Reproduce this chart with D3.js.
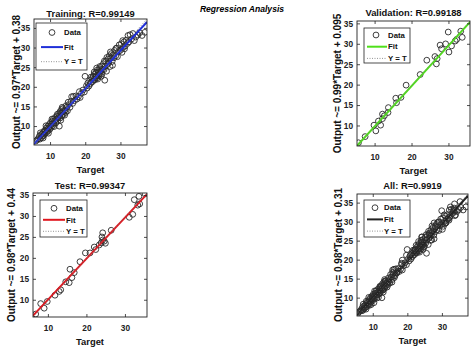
<!DOCTYPE html>
<html>
<head>
<meta charset="utf-8">
<script src="https://cdn.jsdelivr.net/npm/d3@7"></script>
<style>
  body { margin: 0; background: #fff; }
  svg { display: block; font-family: "Liberation Sans", Arial, sans-serif; font-weight: bold; }
</style>
</head>
<body>
<svg id="chart" width="474" height="351"></svg>
<script>
// --- DATA: [target, output] pairs ---
const trainingPts = [
  [5.8,6.3],[6.2,6.6],[6.5,6.9],[6.8,7.5],[7.0,6.8],[7.2,7.9],[7.4,7.2],[7.6,8.1],[7.8,7.6],[8.0,8.6],
  [8.1,7.8],[8.3,9.0],[8.4,8.2],[8.6,8.9],[8.8,9.6],[8.9,8.5],[9.0,9.2],[9.2,10.1],[9.3,8.9],[9.5,9.6],
  [9.6,10.5],[9.8,9.3],[9.9,10.1],[10.0,11.0],[10.2,9.8],[10.3,10.6],[10.5,11.3],[10.6,10.2],[10.8,11.9],[10.9,10.8],
  [11.2,11.5],[11.3,12.3],[11.5,10.9],[11.6,11.8],[11.8,12.6],[12.0,11.4],[12.1,12.2],[12.3,13.3],[12.5,10.1],[12.5,12.6],
  [12.7,13.8],[12.8,12.2],[13.0,13.4],[13.1,14.3],[13.2,12.7],[13.4,13.9],[13.5,14.6],[13.6,13.1],[13.8,13.8],[14.0,12.9],
  [14.1,14.1],[14.3,13.6],[14.6,14.9],[14.8,14.0],[15.2,15.6],[15.5,14.9],[15.8,16.4],[16.0,17.6],[16.3,15.9],[16.8,16.6],
  [17.2,17.8],[17.5,17.0],[17.9,17.6],[18.2,18.9],[18.4,17.4],[18.8,18.5],[19.2,19.3],[19.6,18.8],[19.8,22.8],[20.2,20.4],
  [20.4,19.8],[20.6,21.1],[20.9,20.3],[21.1,21.7],[21.3,20.9],[21.6,21.3],[21.8,22.2],[22.0,21.5],[22.1,22.8],[22.3,22.0],
  [22.5,23.3],[22.6,21.9],[22.8,22.6],[22.9,23.8],[23.0,23.0],[23.2,22.4],[23.3,24.4],[23.5,23.1],[23.6,23.9],[23.8,22.9],
  [23.9,24.7],[24.1,23.6],[24.3,24.2],[24.5,25.4],[24.6,23.4],[24.8,24.6],[25.0,26.0],[25.2,24.5],[25.4,21.8],[25.5,25.3],
  [25.7,26.6],[25.9,24.1],[26.1,25.8],[26.3,27.2],[26.5,26.2],[26.7,28.0],[26.9,25.3],[27.1,27.4],[27.3,28.6],[27.5,26.6],
  [27.8,28.3],[28.0,27.5],[28.2,29.4],[28.5,28.0],[28.8,30.0],[29.0,27.8],[29.3,29.1],[29.5,30.8],[29.8,29.4],[30.1,31.1],
  [30.3,28.9],[30.6,30.2],[30.9,31.6],[31.2,30.5],[31.5,32.0],[31.9,31.2],[32.3,31.6],[32.6,33.4],[33.0,32.3],[33.4,33.7],
  [33.8,31.9],[34.2,32.8],[34.8,33.3],[35.3,33.9],[36.0,33.2],[36.8,34.0],
  [7.1,8.4],[7.9,7.1],[8.7,10.2],[9.4,8.3],[10.4,11.9],[11.0,10.0],[11.9,13.1],[12.9,11.6],[13.3,14.9],[14.4,15.3],
  [15.0,16.2],[16.5,17.7],[21.5,22.6],[22.4,23.9],[23.1,24.9],[23.4,22.1],[24.0,25.3],[24.4,22.8],[25.3,26.7],[26.0,27.6],
  [27.0,29.0],[27.6,25.6],[28.6,29.9],[30.5,31.9],[31.0,29.8],[32.0,33.2]
];
const validationPts = [
  [5.5,5.9],[7.3,7.4],[9.7,10.2],[10.2,8.8],[10.9,11.2],[11.5,10.2],[12.0,11.8],[12.5,12.5],[12.0,12.9],[13.5,13.3],
  [13.6,14.5],[15.6,16.8],[15.8,15.7],[17.0,17.0],[18.4,20.0],[22.2,22.6],[24.0,26.1],[26.2,27.0],[26.6,25.2],[26.8,26.5],
  [27.6,29.8],[28.0,28.9],[29.1,30.1],[29.8,33.0],[30.0,28.1],[30.7,29.6],[31.7,30.8],[32.1,31.2],[33.2,33.2],[33.6,31.7]
];
const testPts = [
  [6.7,6.7],[8.0,9.2],[8.9,8.1],[9.7,9.7],[11.7,11.2],[12.8,12.1],[13.2,12.5],[14.5,14.4],[15.4,14.2],[15.6,17.4],
  [16.1,15.4],[16.7,16.6],[18.2,19.2],[19.6,21.3],[20.8,21.3],[21.9,22.7],[22.3,22.1],[23.2,23.2],[23.7,23.7],[23.9,25.1],
  [24.1,26.1],[24.1,24.4],[24.5,24.1],[24.8,23.6],[26.3,26.7],[31.0,29.8],[31.9,30.5],[32.3,34.0],[33.2,32.7],[33.5,34.8],
  [33.7,33.0],[35.1,35.4]
];
const allPts = trainingPts.concat(validationPts, testPts);

const panelNames = ["Training", "Validation", "Test", "All"];
const rValues = ["0.99149", "0.99188", "0.99347", "0.9919"];
const fitSlopes = [0.97, 0.99, 0.98, 0.98];
const fitIntercepts = ["0.38", "0.095", "0.44", "0.31"];
const fitColors = ["#1f2fd8", "#4fe01a", "#e0161e", "#222222"];
const axisLimits = [[5.3, 37.4], [5.1, 35.7], [6.0, 35.6], [5.3, 37.4]];
const xTicks = [10, 20, 30];
const yTicks = [10, 15, 20, 25, 30, 35];
const legendLabels = ["Data", "Fit", "Y = T"];
const datasets = [trainingPts, validationPts, testPts, allPts];

// --- LAYOUT (pixel boxes per panel) ---
const boxes = [
  { l: 34, r: 147, t: 19, b: 145, ylabX: 16, titleY: 13.5, leg: { x: 36, y: 23, w: 51, h: 47, row0: 9.5, gap: 14.6, mk: 16, tx: 28, l0: 5, l1: 27 } },
  { l: 357, r: 470, t: 21, b: 146, ylabX: 337, titleY: 13, leg: { x: 364, y: 28, w: 46, h: 35, row0: 7, gap: 11.7, mk: 12, tx: 24, l0: 3, l1: 23 } },
  { l: 33, r: 147, t: 193, b: 317, ylabX: 11, titleY: 186, leg: { x: 40, y: 200, w: 47, h: 37, row0: 8.3, gap: 11.5, mk: 14, tx: 26, l0: 3, l1: 25 } },
  { l: 357, r: 468, t: 194, b: 316, ylabX: 338, titleY: 186, leg: { x: 364, y: 200, w: 46, h: 37, row0: 7.7, gap: 11.7, mk: 11, tx: 20, l0: 3, l1: 19 } }
];

const svg = d3.select("#chart");

svg.append("text")
  .attr("x", 242).attr("y", 12)
  .attr("text-anchor", "middle")
  .style("font-size", "8.6px").style("font-style", "italic")
  .text("Regression Analysis");

panelNames.forEach((name, i) => {
  const bx = boxes[i];
  const lim = axisLimits[i];
  const x = d3.scaleLinear().domain(lim).range([bx.l, bx.r]);
  const y = d3.scaleLinear().domain(lim).range([bx.b, bx.t]);
  const g = svg.append("g");

  const clipId = `clip-${i}`;
  g.append("clipPath").attr("id", clipId)
    .append("rect").attr("x", bx.l).attr("y", bx.t)
    .attr("width", bx.r - bx.l).attr("height", bx.b - bx.t);

  const plot = g.append("g").attr("clip-path", `url(#${clipId})`);

  // data circles
  plot.selectAll("circle").data(datasets[i]).join("circle")
    .attr("cx", d => x(d[0])).attr("cy", d => y(d[1]))
    .attr("r", 2.9)
    .attr("fill", "none").attr("stroke", "#2a2a2a").attr("stroke-width", 0.9);

  // fit line
  const slope = fitSlopes[i], icpt = +fitIntercepts[i];
  plot.append("line")
    .attr("x1", x(lim[0])).attr("y1", y(slope * lim[0] + icpt))
    .attr("x2", x(lim[1])).attr("y2", y(slope * lim[1] + icpt))
    .attr("stroke", fitColors[i]).attr("stroke-width", 2);

  // Y = T
  plot.append("line")
    .attr("x1", x(lim[0])).attr("y1", y(lim[0]))
    .attr("x2", x(lim[1])).attr("y2", y(lim[1]))
    .attr("stroke", "#777").attr("stroke-width", 0.8).attr("stroke-dasharray", "1,1.5");

  // box
  g.append("rect")
    .attr("x", bx.l).attr("y", bx.t)
    .attr("width", bx.r - bx.l).attr("height", bx.b - bx.t)
    .attr("fill", "none").attr("stroke", "#222").attr("stroke-width", 0.9);

  // ticks inward on all sides
  const tk = 3;
  xTicks.forEach(v => {
    g.append("line").attr("x1", x(v)).attr("x2", x(v)).attr("y1", bx.b).attr("y2", bx.b - tk)
      .attr("stroke", "#222").attr("stroke-width", 0.8);
    g.append("line").attr("x1", x(v)).attr("x2", x(v)).attr("y1", bx.t).attr("y2", bx.t + tk)
      .attr("stroke", "#222").attr("stroke-width", 0.8);
    g.append("text").attr("x", x(v)).attr("y", bx.b + 11).attr("dy", "0.35em")
      .attr("text-anchor", "middle").style("font-size", "8.3px").attr("fill", "#222").text(v);
  });
  yTicks.forEach(v => {
    g.append("line").attr("x1", bx.l).attr("x2", bx.l + tk).attr("y1", y(v)).attr("y2", y(v))
      .attr("stroke", "#222").attr("stroke-width", 0.8);
    g.append("line").attr("x1", bx.r).attr("x2", bx.r - tk).attr("y1", y(v)).attr("y2", y(v))
      .attr("stroke", "#222").attr("stroke-width", 0.8);
    g.append("text").attr("x", bx.l - 4).attr("y", y(v)).attr("dy", "0.35em")
      .attr("text-anchor", "end").style("font-size", "8.3px").attr("fill", "#222").text(v);
  });

  // title and labels
  const cx = (bx.l + bx.r) / 2;
  g.append("text").attr("x", cx).attr("y", bx.titleY).attr("dy", "0.35em")
    .attr("text-anchor", "middle").style("font-size", "9.4px").attr("fill", "#111")
    .text(`${name}: R=${rValues[i]}`);
  g.append("text").attr("x", cx).attr("y", bx.b + 25).attr("dy", "0.35em")
    .attr("text-anchor", "middle").style("font-size", "9.4px").attr("fill", "#111")
    .text("Target");
  const cy = (bx.t + bx.b) / 2;
  g.append("text")
    .attr("transform", `translate(${bx.ylabX},${cy}) rotate(-90)`)
    .attr("dy", "0.35em").attr("text-anchor", "middle")
    .style("font-size", "10px").attr("fill", "#111")
    .text(`Output ~= ${fitSlopes[i]}*Target + ${fitIntercepts[i]}`);

  // legend
  const lg = bx.leg;
  const leg = g.append("g").attr("transform", `translate(${lg.x},${lg.y})`);
  leg.append("rect").attr("width", lg.w).attr("height", lg.h)
    .attr("fill", "#fff").attr("stroke", "#222").attr("stroke-width", 0.8);
  legendLabels.forEach((lab, k) => {
    const ry = lg.row0 + k * lg.gap;
    if (k === 0) {
      leg.append("circle").attr("cx", lg.mk).attr("cy", ry).attr("r", 2.9)
        .attr("fill", "none").attr("stroke", "#2a2a2a").attr("stroke-width", 0.9);
    } else if (k === 1) {
      leg.append("line").attr("x1", lg.l0).attr("x2", lg.l1).attr("y1", ry).attr("y2", ry)
        .attr("stroke", fitColors[i]).attr("stroke-width", 2);
    } else {
      leg.append("line").attr("x1", lg.l0).attr("x2", lg.l1).attr("y1", ry).attr("y2", ry)
        .attr("stroke", "#777").attr("stroke-width", 0.8).attr("stroke-dasharray", "1,1.5");
    }
    leg.append("text").attr("x", lg.tx).attr("y", ry).attr("dy", "0.35em")
      .style("font-size", "7.8px").attr("fill", "#111").text(lab);
  });
});
</script>
</body>
</html>
